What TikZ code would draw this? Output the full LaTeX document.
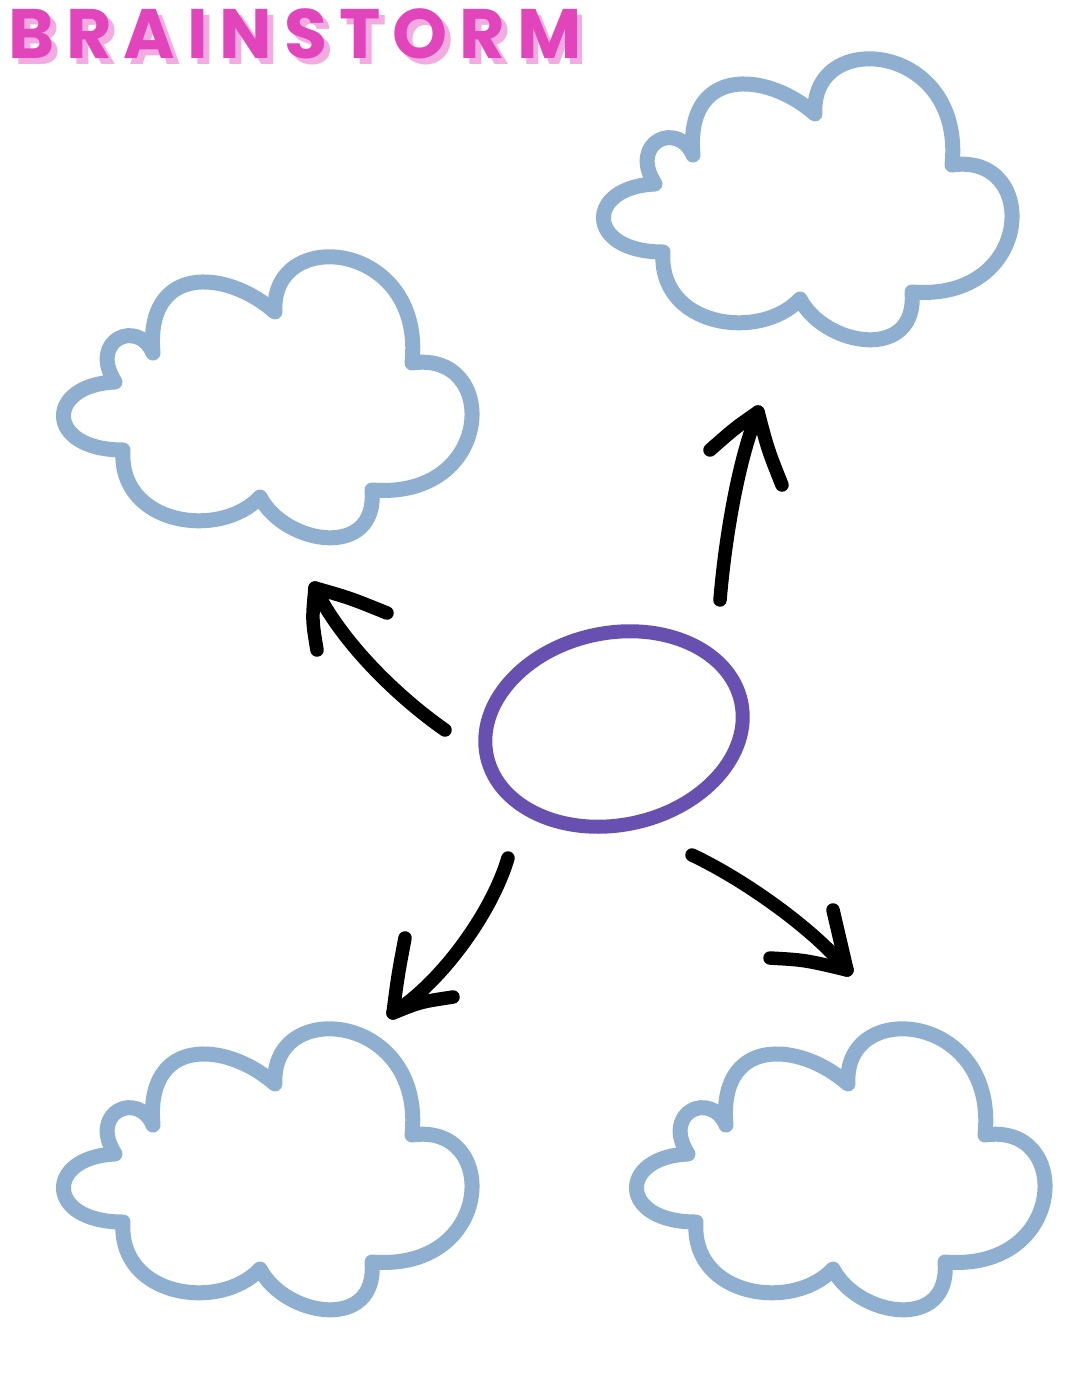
\documentclass[tikz,border=0pt]{standalone}
\usepackage{fontspec}
\newfontfamily\titlefont{Poppins}[LetterSpace=17]
\definecolor{cloudblue}{RGB}{143,175,208}
\definecolor{ringpurple}{RGB}{104,80,176}
\definecolor{titlepink}{RGB}{226,68,188}
\definecolor{shadowpink}{RGB}{242,172,226}
\usetikzlibrary{shapes.geometric}
\begin{document}
\begin{tikzpicture}[x=1pt,y=-1pt,
  cloudline/.style={draw=cloudblue,line width=15pt,line join=round,line cap=round},
  arrowline/.style={draw=black,line width=13.5pt,line cap=round,line join=round},
  ring/.style={ellipse,draw=ringpurple,line width=14pt,minimum width=260pt,minimum height=192pt,inner sep=0pt},
  titletext/.style={anchor=base west,inner sep=0pt,text=titlepink,font=\titlefont\bfseries\fontsize{70}{70}\selectfont},
  cloud/.pic={
    \draw[cloudline] (123,450)
      .. controls (118,525) and (220,540) .. (260,497)
      .. controls (285,545) and (378,560) .. (372,490)
      .. controls (495,500) and (500,350) .. (412,363)
      .. controls (425,240) and (270,225) .. (275,312)
      .. controls (225,268) and (145,265) .. (153,353)
      .. controls (138,318) and (88,340) .. (115,382)
      .. controls (45,385) and (45,450) .. cycle;
  }]
\useasboundingbox (0,0) rectangle (1080,1395);
\fill[white] (0,0) rectangle (1080,1395);

% title with its offset shadow, as one text
\node[titletext] (title) at (8,58)
  {\makebox[0pt][l]{\hspace{6pt}\raisebox{-6pt}{\textcolor{shadowpink}{BRAINSTORM}}}BRAINSTORM};

% clouds
\pic (cloudA) at (0,0) {cloud};
\pic (cloudB) at (540,-198) {cloud};
\pic (cloudC) at (0,772) {cloud};
\pic (cloudD) at (573,772) {cloud};

% centre ring
\node[ring,rotate=12] (centre) at (614,729) {};

% arrow end points
\coordinate (ulS) at (445,730);
\coordinate (ulT) at (315,588);
\coordinate (urS) at (720,600);
\coordinate (urT) at (758,412);
\coordinate (llS) at (508,858);
\coordinate (llT) at (393,1013);
\coordinate (lrS) at (692,855);
\coordinate (lrT) at (847,970);

% upper left arrow
\draw[arrowline] (ulS) .. controls (395,695) and (340,640) .. (ulT);
\draw[arrowline] (387,613) .. controls (350,598) .. (ulT) .. controls (312,620) .. (317,650);
% upper right arrow
\draw[arrowline] (urS) .. controls (725,540) and (738,460) .. (urT);
\draw[arrowline] (710,450) .. controls (735,428) .. (urT) .. controls (768,450) .. (782,485);
% lower left arrow
\draw[arrowline] (llS) .. controls (492,912) and (442,982) .. (llT);
\draw[arrowline] (405,938) .. controls (398,975) .. (llT) .. controls (420,1002) .. (453,997);
% lower right arrow
\draw[arrowline] (lrS) .. controls (745,880) and (815,930) .. (lrT);
\draw[arrowline] (833,910) .. controls (840,940) .. (lrT) .. controls (805,960) .. (770,958);
\end{tikzpicture}
\end{document}
